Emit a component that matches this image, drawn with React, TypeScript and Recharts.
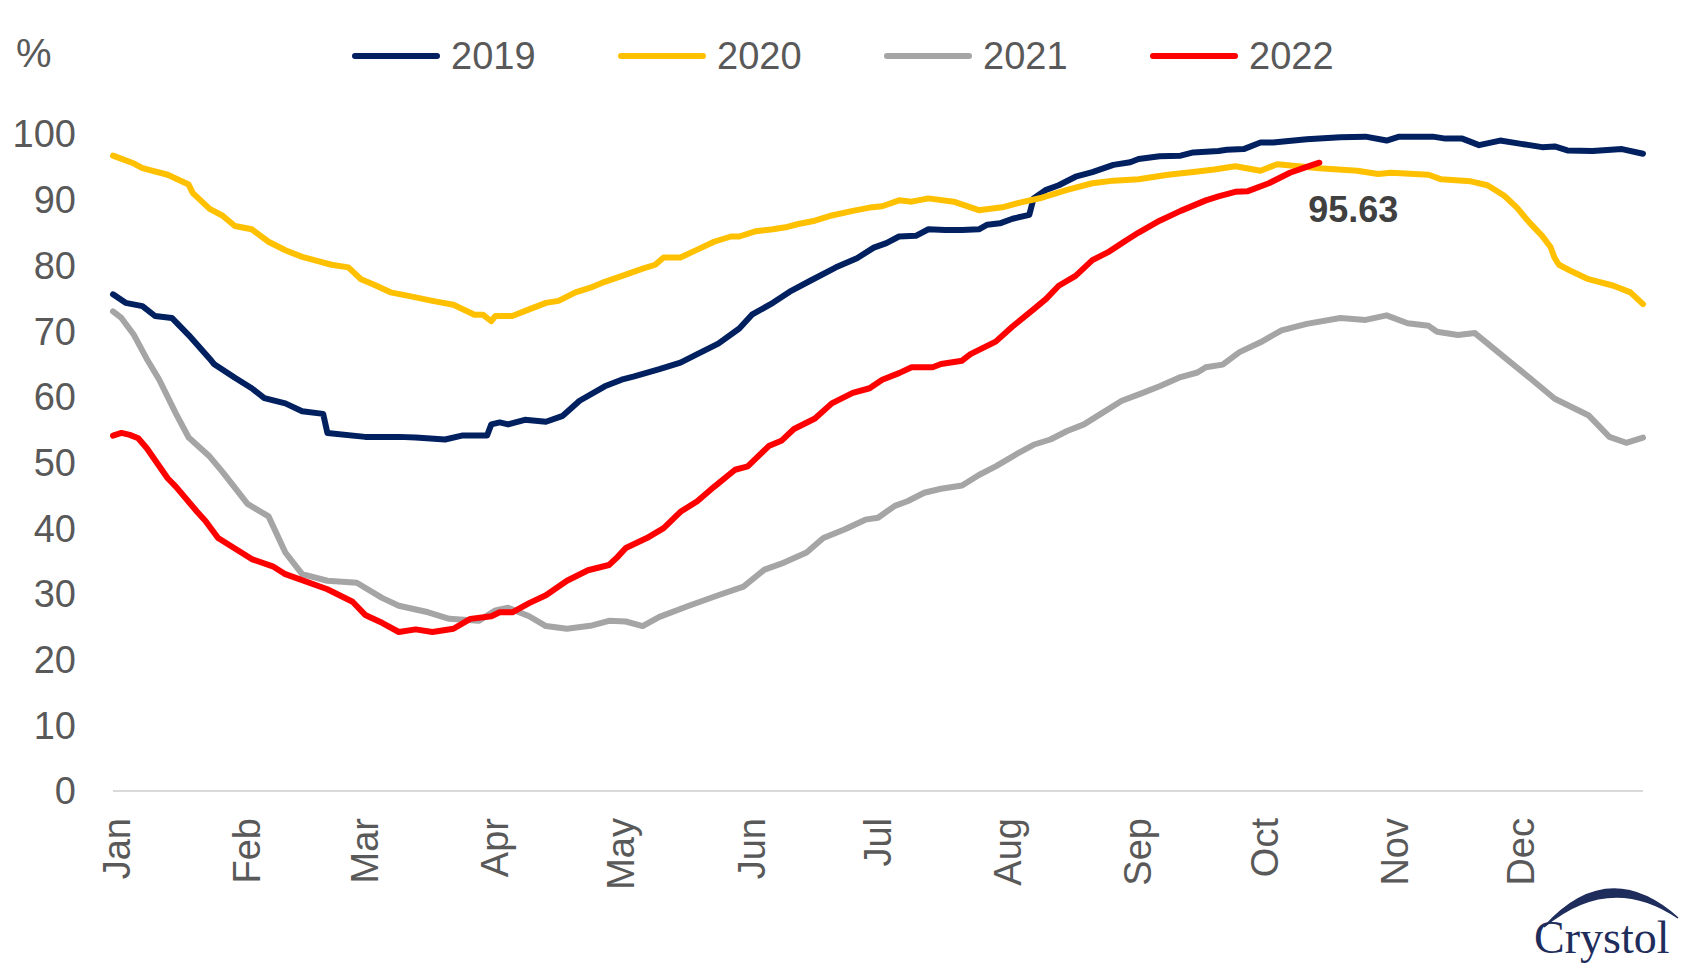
import { LineChart, Line, XAxis, YAxis, LabelList } from "recharts";

// Seasonal fill level (%) by day of year, one series per year
const monthNames = ["Jan", "Feb", "Mar", "Apr", "May", "Jun", "Jul", "Aug", "Sep", "Oct", "Nov", "Dec"];
const monthStarts = [0, 31, 59, 90, 120, 151, 181, 212, 243, 273, 304, 334];
const yTicks = [0, 10, 20, 30, 40, 50, 60, 70, 80, 90, 100];

const s2019: [number, number][] = [
  [0, 75.6], [3, 74.3], [7, 73.8], [10, 72.3], [14, 72.0], [18, 69.4], [23, 65.8], [24, 65.0], [29, 62.9],
  [33, 61.3], [36, 59.8], [41, 59.0], [45, 57.8], [50, 57.4], [51, 54.5], [60, 53.9], [68, 53.9], [72, 53.8],
  [79, 53.5], [83, 54.1], [89, 54.1], [90, 55.8], [92, 56.1], [94, 55.8], [98, 56.5], [103, 56.2], [107, 57.1],
  [111, 59.4], [117, 61.6], [121, 62.6], [124, 63.1], [130, 64.2], [135, 65.2], [139, 66.5], [144, 68.1],
  [149, 70.4], [152, 72.5], [157, 74.3], [161, 76.0], [166, 77.7], [172, 79.7], [177, 81.1], [181, 82.7],
  [184, 83.4], [187, 84.4], [191, 84.5], [194, 85.5], [198, 85.4], [202, 85.4], [206, 85.5], [208, 86.2],
  [211, 86.4], [214, 87.1], [218, 87.7], [219, 90.2], [222, 91.5], [225, 92.2], [229, 93.5], [233, 94.2],
  [238, 95.3], [242, 95.7], [244, 96.2], [249, 96.6], [254, 96.7], [257, 97.2], [263, 97.4], [265, 97.6],
  [269, 97.7], [273, 98.7], [276, 98.7], [284, 99.2], [292, 99.5], [298, 99.6], [303, 99.0], [306, 99.6],
  [314, 99.6], [317, 99.3], [321, 99.3], [325, 98.3], [330, 99.0], [335, 98.5], [340, 98.0], [343, 98.1],
  [346, 97.5], [352, 97.4], [359, 97.7], [364, 97.0],
];

const s2020: [number, number][] = [
  [0, 96.7], [5, 95.5], [7, 94.8], [13, 93.8], [18, 92.3], [19, 91.0], [23, 88.6], [26, 87.6], [29, 86.0],
  [33, 85.5], [37, 83.6], [41, 82.3], [45, 81.3], [49, 80.6], [52, 80.1], [56, 79.7], [59, 77.9], [62, 77.1],
  [66, 75.9], [70, 75.4], [76, 74.6], [81, 74.0], [86, 72.5], [88, 72.5], [90, 71.5], [91, 72.3], [95, 72.3],
  [99, 73.3], [103, 74.3], [106, 74.6], [110, 75.9], [114, 76.7], [117, 77.5], [122, 78.6], [126, 79.5],
  [129, 80.1], [131, 81.2], [135, 81.2], [138, 82.1], [143, 83.6], [147, 84.4], [149, 84.4], [153, 85.2],
  [157, 85.5], [160, 85.8], [163, 86.3], [167, 86.8], [171, 87.6], [176, 88.3], [180, 88.8], [183, 89.0],
  [187, 89.9], [190, 89.7], [194, 90.2], [200, 89.7], [206, 88.4], [212, 88.9], [216, 89.6], [221, 90.3],
  [227, 91.5], [233, 92.5], [238, 92.9], [244, 93.1], [251, 93.8], [257, 94.2], [262, 94.6], [267, 95.1],
  [273, 94.4], [277, 95.4], [287, 94.8], [296, 94.4], [301, 93.9], [304, 94.1], [313, 93.8], [316, 93.1],
  [323, 92.8], [327, 92.2], [331, 90.6], [334, 88.8], [337, 86.5], [340, 84.5], [342, 82.8], [343, 81.1],
  [344, 80.1], [347, 79.1], [351, 77.9], [357, 76.9], [361, 75.9], [364, 74.1],
];

const s2021: [number, number][] = [
  [0, 73.0], [2, 72.0], [5, 69.4], [8, 65.8], [11, 62.6], [15, 57.4], [18, 53.8], [23, 50.9], [26, 48.6],
  [32, 43.7], [37, 41.8], [41, 36.3], [45, 33.0], [51, 32.0], [58, 31.7], [64, 29.4], [68, 28.2], [75, 27.2],
  [80, 26.2], [87, 25.9], [91, 27.5], [94, 27.9], [99, 26.6], [103, 25.1], [108, 24.7], [114, 25.2],
  [118, 25.9], [122, 25.8], [126, 25.1], [130, 26.5], [137, 28.2], [144, 29.8], [150, 31.1], [155, 33.7],
  [159, 34.6], [165, 36.3], [169, 38.5], [174, 39.8], [179, 41.3], [182, 41.6], [186, 43.4], [189, 44.1],
  [193, 45.4], [197, 46.0], [202, 46.5], [206, 48.1], [210, 49.4], [215, 51.3], [219, 52.7], [223, 53.5],
  [227, 54.8], [231, 55.8], [235, 57.4], [240, 59.4], [245, 60.6], [249, 61.6], [254, 63.0], [258, 63.7],
  [260, 64.5], [264, 64.9], [268, 66.8], [273, 68.3], [278, 70.1], [284, 71.1], [292, 72.0], [298, 71.7],
  [303, 72.4], [308, 71.2], [313, 70.8], [315, 69.9], [320, 69.4], [324, 69.7], [332, 65.5], [337, 62.9],
  [343, 59.7], [351, 57.2], [356, 53.9], [360, 53.0], [364, 53.8],
];

const s2022: [number, number][] = [
  [0, 54.1], [2, 54.5], [4, 54.2], [6, 53.7], [8, 52.2], [13, 47.6], [15, 46.3], [20, 42.5], [22, 41.1],
  [25, 38.5], [29, 36.9], [33, 35.3], [38, 34.2], [41, 33.0], [51, 30.7], [57, 28.8], [60, 26.8], [64, 25.6],
  [68, 24.2], [72, 24.6], [76, 24.2], [81, 24.7], [85, 26.2], [90, 26.6], [92, 27.2], [95, 27.2], [99, 28.6],
  [103, 29.8], [108, 32.0], [113, 33.6], [118, 34.4], [120, 35.6], [122, 37.0], [127, 38.5], [131, 40.0],
  [135, 42.5], [139, 44.1], [143, 46.3], [148, 48.9], [151, 49.4], [156, 52.5], [159, 53.3], [162, 55.1],
  [167, 56.7], [171, 59.0], [176, 60.6], [180, 61.3], [183, 62.6], [187, 63.6], [190, 64.5], [195, 64.5],
  [197, 65.0], [202, 65.5], [204, 66.5], [210, 68.4], [214, 70.7], [219, 73.3], [222, 74.9], [225, 76.9],
  [229, 78.4], [233, 80.8], [237, 82.1], [241, 83.8], [244, 85.0], [249, 86.8], [254, 88.3], [260, 89.9],
  [263, 90.5], [267, 91.2], [270, 91.3], [275, 92.5], [280, 94.1], [284, 95.0], [287, 95.63],
];

const series = [
  { name: "2019", color: "#002060", points: s2019 },
  { name: "2020", color: "#FFC000", points: s2020 },
  { name: "2021", color: "#A5A5A5", points: s2021 },
  { name: "2022", color: "#FF0000", points: s2022 },
];

const FONT = "'Liberation Sans', Arial, sans-serif";
const TEXT = "#595959";

const toRows = (pts: [number, number][]) => pts.map(([d, v]) => ({ d, v }));

const MonthTick = ({ x, y, payload }: any) => {
  const i = monthStarts.indexOf(payload.value);
  return (
    <text
      x={0}
      y={0}
      dy={17}
      textAnchor="end"
      transform={`translate(${x},${y + 27}) rotate(-90)`}
      fill={TEXT}
      fontSize={38}
      fontFamily={FONT}
    >
      {monthNames[i]}
    </text>
  );
};

const lastIdx = s2022.length - 1;
const LastValue = (p: any) => {
  if (p.index !== lastIdx) return <g />;
  return (
    <text
      x={p.x + 34}
      y={p.y + 59}
      textAnchor="middle"
      fill="#404040"
      fontSize={36}
      fontWeight="bold"
      fontFamily={FONT}
    >
      {Number(p.value).toFixed(2)}
    </text>
  );
};

export default function App() {
  return (
    <div style={{ position: "absolute", left: 0, top: 0, width: 1683, height: 971, background: "#fff" }}>
      {/* unit label */}
      <div style={{ position: "absolute", left: 16, top: 30, fontSize: 40, color: TEXT, fontFamily: FONT, lineHeight: "46px" }}>
        %
      </div>

      {/* legend */}
      <div style={{ position: "absolute", left: 352, top: 34, display: "flex", fontFamily: FONT }}>
        {series.map((s) => (
          <div key={s.name} style={{ width: 266, display: "flex", alignItems: "center", height: 44 }}>
            <div style={{ width: 88, height: 6, borderRadius: 3, background: s.color, marginRight: 11 }} />
            <span style={{ fontSize: 38, color: TEXT, lineHeight: "44px" }}>{s.name}</span>
          </div>
        ))}
      </div>

      <LineChart width={1683} height={971} margin={{ top: 134, right: 40, bottom: 0, left: 0 }}>
        <XAxis
          type="number"
          dataKey="d"
          domain={[0, 364]}
          ticks={monthStarts}
          interval={0}
          height={180}
          tickLine={false}
          tickSize={0}
          tickMargin={0}
          axisLine={{ stroke: "#D9D9D9", strokeWidth: 2 }}
          tick={<MonthTick />}
        />
        <YAxis
          type="number"
          domain={[0, 100]}
          ticks={yTicks}
          interval={0}
          width={113}
          axisLine={false}
          tickLine={false}
          tickSize={0}
          tickMargin={37}
          tick={{ fill: TEXT, fontSize: 38, fontFamily: FONT }}
        />
        {series.map((s) => (
          <Line
            key={s.name}
            data={toRows(s.points)}
            dataKey="v"
            name={s.name}
            type="linear"
            stroke={s.color}
            strokeWidth={6}
            strokeLinejoin="round"
            strokeLinecap="round"
            dot={false}
            activeDot={false}
            isAnimationActive={false}
          >
            {s.name === "2022" && <LabelList dataKey="v" content={<LastValue />} />}
          </Line>
        ))}
      </LineChart>

      {/* logo */}
      <svg style={{ position: "absolute", left: 1520, top: 870 }} width={163} height={101}>
        <path d="M 24 57 Q 88 -14 158 48 Q 90 2 24 57 Z" fill="#1F2D5C" stroke="#1F2D5C" strokeWidth={1.5} />
        <text x={14} y={83} fontSize={46} fontFamily="'Liberation Serif', 'Times New Roman', serif" fill="#1F2D5C">
          Crystol
        </text>
      </svg>
    </div>
  );
}
